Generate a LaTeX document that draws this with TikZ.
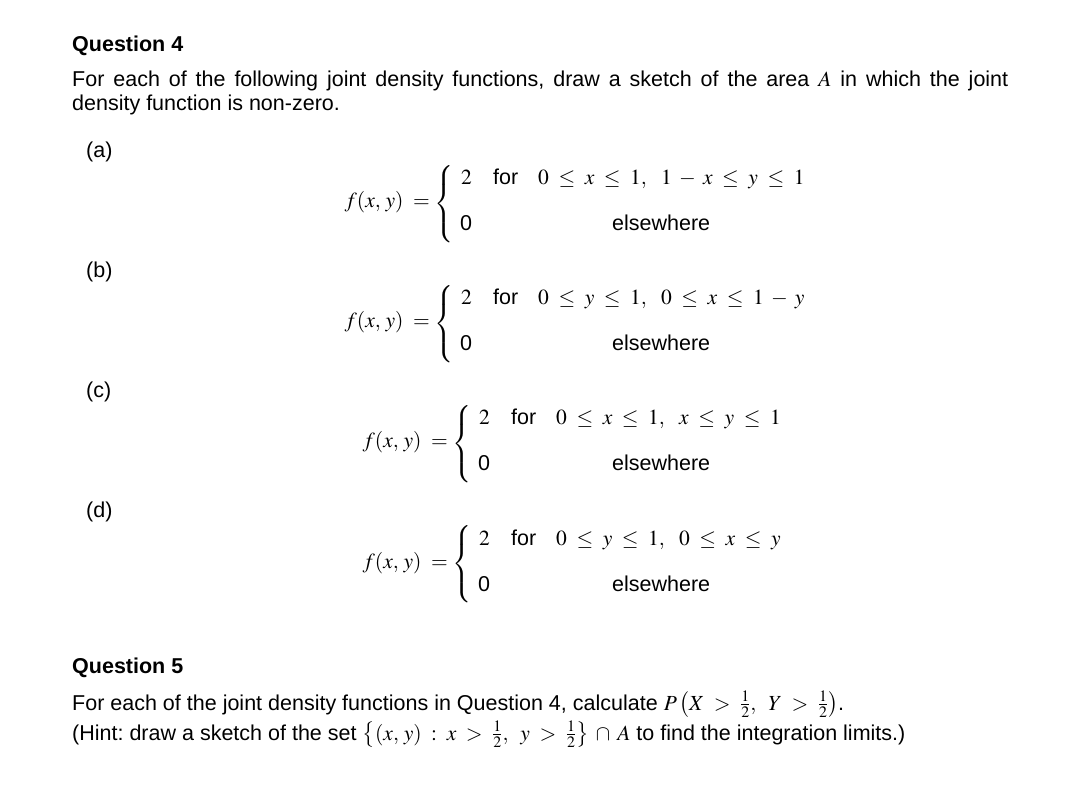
\documentclass[tikz,border=0pt]{standalone}
\usepackage{mathptmx}
\usepackage{fontspec}
\setmainfont{Liberation Sans}
\frenchspacing
\medmuskip=6mu
\thickmuskip=8mu
\begin{document}
\begin{tikzpicture}[x=1pt,y=-1pt,
  txt/.style={anchor=base west,inner sep=0pt,font=\fontsize{21.5}{26}\selectfont},
  rtxt/.style={anchor=base east,inner sep=0pt,font=\fontsize{21.5}{26}\selectfont},
  brc/.style={inner sep=0pt,font=\fontsize{21.5}{26}\selectfont}]
\useasboundingbox (0,0) rectangle (1080,786);
\fill[white] (0,0) rectangle (1080,786);
\node[txt] (q4) at (72,52) {\textbf{Question 4}};
\node[txt] (l1) at (72,87) {\makebox[936pt][s]{For each of the following joint density functions, draw a sketch of the area $A$ in which the joint}};
\node[txt] (l2) at (72,111) {density function is non-zero.};
\foreach \lab/\dx/\dy/\cond in {a/0/0/{$0\le x\le 1,\ \ 1-x\le y\le 1$},
  b/0/120/{$0\le y\le 1,\ \ 0\le x\le 1-y$},
  c/18/240/{$0\le x\le 1,\ \ x\le y\le 1$},
  d/18/360/{$0\le y\le 1,\ \ 0\le x\le y$}}{
  \node[txt] (lab\lab) at (86,158+\dy) {(\lab)};
  \node[rtxt] (f\lab) at (430+\dx,208+\dy) {$f(x,\,y)=$};
  \node[brc] (br\lab) at (445+\dx,204+\dy) {$\left\{\vrule height 30pt depth 30pt width 0pt\right.$};
  \node[txt] (two\lab) at (461+\dx,185+\dy) {$2$};
  \node[txt] (for\lab) at (493+\dx,185+\dy) {for};
  \node[txt] (cond\lab) at (538+\dx,185+\dy) {\cond};
  \node[txt] (zero\lab) at (460+\dx,231+\dy) {0};
  \node[txt] (else\lab) at (612,231+\dy) {elsewhere};
}
\node[txt] (q5) at (72,673) {\textbf{Question 5}};
\node[txt] (m1) at (72,710) {For each of the joint density functions in Question 4, calculate $P\left(X>\frac{1}{2},\;Y>\frac{1}{2}\right)$.};
\node[txt] (m2) at (72,740) {(Hint: draw a sketch of the set $\left\{(x,\,y):x>\frac{1}{2},\;y>\frac{1}{2}\right\}\cap A$ to find the integration limits.)};
\end{tikzpicture}
\end{document}
